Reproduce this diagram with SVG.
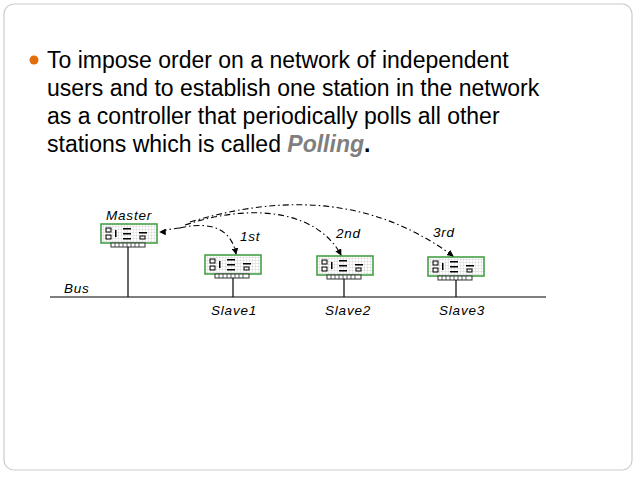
<svg xmlns="http://www.w3.org/2000/svg" width="638" height="478" viewBox="0 0 638 478">
<defs>
<style>
.t{font-family:"Liberation Sans",Arial,sans-serif;font-size:23px;fill:#000}
.l{font-family:"Liberation Sans",Arial,sans-serif;font-size:13.5px;font-style:italic;fill:#000;letter-spacing:0.8px}
.card{fill:#f2f2f2;stroke:#3a9a3a;stroke-width:1.5}
.pin{fill:#fff;stroke:#333;stroke-width:1}
.w{stroke:#000;stroke-width:1.2}
.c{fill:none;stroke:#000;stroke-width:1.1;stroke-dasharray:6 3 1.5 3}
</style>
<pattern id="g" width="3" height="3" patternUnits="userSpaceOnUse"><rect width="3" height="3" fill="#fff"/><path d="M3 0V3H0" fill="none" stroke="#bbb" stroke-width="0.6"/></pattern>
<marker id="a" viewBox="0 0 8 8" refX="7" refY="4" markerWidth="6" markerHeight="6" orient="auto"><path d="M0 0L8 4L0 8z" fill="#000"/></marker>
<g id="chip">
<rect class="card" x="0" y="0" width="56" height="19" style="fill:url(#g)"/>
<rect class="pin" x="10" y="19" width="34" height="4"/>
<path d="M14 19v4M18 19v4M22 19v4M26 19v4M30 19v4M34 19v4M38 19v4" stroke="#333" stroke-width="0.8"/>
<rect x="5" y="4" width="5" height="4" fill="none" stroke="#000"/><rect x="5" y="11" width="5" height="4" fill="none" stroke="#000"/>
<rect x="14" y="6" width="1.5" height="7" fill="#000"/>
<rect x="22" y="4" width="8" height="1.5" fill="#000"/><rect x="22" y="9" width="8" height="1.5" fill="#000"/><rect x="22" y="14" width="8" height="1.5" fill="#000"/>
<rect x="38" y="8" width="8" height="1.5" fill="#000"/><rect x="39" y="12" width="5" height="3" fill="none" stroke="#000"/>
</g>
</defs>
<rect x="4" y="4" width="628" height="466" rx="10" fill="#fff" stroke="#ccc" stroke-width="1.2"/>
<circle cx="34" cy="60" r="4.5" fill="#e46c0a"/>
<text class="t" x="47" y="68">To impose order on a network of independent</text>
<text class="t" x="47" y="96">users and to establish one station in the network</text>
<text class="t" x="47" y="124">as a controller that periodically polls all other</text>
<text class="t" x="47" y="152">stations which is called <tspan font-weight="bold" font-style="italic" fill="#7f7f7f">Polling</tspan><tspan font-weight="bold">.</tspan></text>
<g id="bus"><line class="w" x1="50" y1="297" x2="546" y2="297"/><text class="l" x="64" y="293">Bus</text></g>
<g id="master"><use href="#chip" x="101" y="224"/><line class="w" x1="128" y1="247" x2="128" y2="297"/><text class="l" x="106" y="220">Master</text></g>
<g id="slave1"><use href="#chip" x="205" y="255"/><line class="w" x1="233" y1="278" x2="233" y2="297"/><text class="l" x="211" y="315">Slave1</text><text class="l" x="240" y="241">1st</text></g>
<g id="slave2"><use href="#chip" x="317" y="256"/><line class="w" x1="344" y1="279" x2="344" y2="297"/><text class="l" x="325" y="315">Slave2</text><text class="l" x="336" y="238">2nd</text></g>
<g id="slave3"><use href="#chip" x="428" y="257"/><line class="w" x1="456" y1="280" x2="456" y2="297"/><text class="l" x="439" y="315">Slave3</text><text class="l" x="433" y="237">3rd</text></g>
<g id="connectors">
<path class="c" d="M180 228 C160 230 162 232 160 232" marker-end="url(#a)"/>
<path class="c" d="M180 228 C215 220 232 232 236 254" marker-end="url(#a)"/>
<path class="c" d="M185 225 C260 200 320 215 341 255" marker-end="url(#a)"/>
<path class="c" d="M190 222 C280 195 370 195 453 256" marker-end="url(#a)"/>
</g>
</svg>
